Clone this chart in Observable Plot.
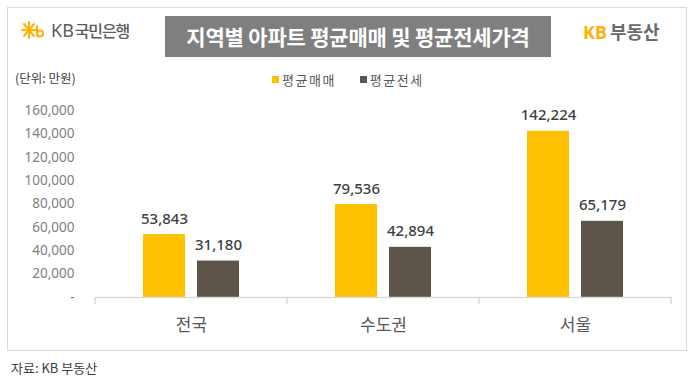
<!DOCTYPE html>
<html>
<head>
<meta charset="utf-8">
<script src="https://cdn.jsdelivr.net/npm/d3@7"></script>
<script src="https://cdn.jsdelivr.net/npm/@observablehq/plot@0.6"></script>
<style>
  body { margin: 0; background: #fff; }
  #page { position: relative; width: 698px; height: 387px; background: #fff; overflow: hidden;
          font-family: "Noto Sans CJK KR", "Noto Sans", sans-serif; }
  #frame { position: absolute; left: 7px; top: 7px; width: 678px; height: 342px; border: 1px solid #d9d9d9; box-sizing: content-box; }
  #title { position: absolute; left: 165px; top: 16px; width: 386px; height: 41px; background: #7f7f7f;
           color: #fff; font-weight: 700; font-size: 21px; line-height: 41px; text-align: center; letter-spacing: -0.2px; }
  #logo1 { position: absolute; left: 21px; top: 19px; height: 22px; display: flex; align-items: center; }
  #logo1 .kb { font-family: "Noto Sans", sans-serif; font-size: 18px; color: #5b5b5b; margin-left: 6px; }
  #logo1 .nm { font-size: 16px; color: #5b5b5b; font-weight: 500; letter-spacing: -1.2px; margin-left: 1px; }
  #logo2 { position: absolute; left: 583px; top: 18px; font-size: 18px; font-weight: 700; }
  #logo2 .kb { color: #FFB000; font-family: "Noto Sans", sans-serif; }
  #logo2 .nm { color: #6a6a6a; margin-left: 3px; }
  #unit { position: absolute; left: 15px; top: 68px; font-size: 12.5px; color: #404040; }
  #legend { position: absolute; left: 272px; top: 70px; display: flex; align-items: center; font-size: 13px; color: #595959; letter-spacing: 1.5px; }
  #legend .sw { width: 7px; height: 7px; display: inline-block; margin-right: 3px; }
  #legend .item { display: flex; align-items: center; margin-right: 24px; }
  #source { position: absolute; left: 11px; top: 358px; font-size: 13px; color: #404040; }
  #chart { position: absolute; left: 0; top: 0; }
</style>
</head>
<body>
<div id="page">
  <div id="frame"></div>
  <div id="logo1">
    <svg width="24" height="18" viewBox="0 0 24 18">
      <g stroke="#FFB000" stroke-width="2" stroke-linecap="round" fill="none">
        <line x1="8" y1="1" x2="8" y2="17"/>
        <line x1="1" y1="9" x2="15" y2="9"/>
        <line x1="3" y1="3" x2="13" y2="15"/>
        <line x1="13" y1="3" x2="3" y2="15"/>
        <path d="M16 5 L16 15"/>
        <circle cx="19" cy="12.5" r="3"/>
      </g>
    </svg>
    <span class="kb">KB</span><span class="nm">국민은행</span>
  </div>
  <div id="title">지역별 아파트 평균매매 및 평균전세가격</div>
  <div id="logo2"><span class="kb">KB</span><span class="nm">부동산</span></div>
  <div id="unit">(단위: 만원)</div>
  <div id="legend"></div>
  <div id="chart"></div>
  <div id="source">자료: KB 부동산</div>
</div>
<script>
// ---- data ----
const regions = ["전국", "수도권", "서울"];
const seriesNames = ["평균매매", "평균전세"];
const saleValues = [53843, 79536, 142224];
const jeonseValues = [31180, 42894, 65179];
const seriesColors = ["#FFC000", "#5D5449"];
const yTicks = [0, 20000, 40000, 60000, 80000, 100000, 120000, 140000, 160000];

const rows = [];
regions.forEach((r, i) => {
  rows.push({region: r, type: seriesNames[0], value: saleValues[i]});
  rows.push({region: r, type: seriesNames[1], value: jeonseValues[i]});
});

// legend
const legend = document.getElementById("legend");
seriesNames.forEach((s, i) => {
  const item = document.createElement("span");
  item.className = "item";
  const sw = document.createElement("span");
  sw.className = "sw";
  sw.style.background = seriesColors[i];
  item.appendChild(sw);
  item.appendChild(document.createTextNode(s));
  legend.appendChild(item);
});

const fmt = d3.format(",");
const chart = Plot.plot({
  width: 698,
  height: 387,
  marginLeft: 95,
  marginRight: 27,
  marginTop: 110,
  marginBottom: 90,
  style: {fontFamily: "'Noto Sans', 'Noto Sans CJK KR', sans-serif", background: "transparent", overflow: "visible"},
  fx: {domain: regions, padding: 0, paddingOuter: 0},
  x: {domain: seriesNames, paddingInner: 0.22, paddingOuter: 0.86, axis: null},
  y: {domain: [0, 160000]},
  color: {domain: seriesNames, range: seriesColors},
  marks: [
    Plot.axisY(yTicks, {tickSize: 0, tickPadding: 21, tickFormat: d => d === 0 ? "-" : fmt(d), fontSize: 13.5, color: "#808080", label: null}),
    Plot.axisFx({anchor: "bottom", tickSize: 0, tickPadding: 21, fontSize: 17, color: "#595959", label: null}),
    Plot.barY(rows, {fx: "region", x: "type", y: "value", fill: "type"}),
    Plot.ruleY([0], {stroke: "#d9d9d9", strokeWidth: 1.5}),
    Plot.text(rows, {fx: "region", x: "type", y: "value", text: d => fmt(d.value), lineAnchor: "bottom", dy: -11,
      fontSize: 15, fontWeight: 500, fill: "#404040"})
  ]
});
document.getElementById("chart").appendChild(chart);

// band boundary ticks under the axis, from the fx scale
const fx = chart.scale("fx");
const yS = chart.scale("y");
const y0 = yS.apply(0);
const edges = regions.map(r => fx.apply(r));
edges.push(fx.apply(regions[regions.length - 1]) + fx.bandwidth);
d3.select(chart).append("g")
  .attr("stroke", "#d9d9d9").attr("stroke-width", 1.5)
  .selectAll("line").data(edges).join("line")
  .attr("x1", d => d).attr("x2", d => d)
  .attr("y1", y0).attr("y2", y0 + 7);
</script>
</body>
</html>
